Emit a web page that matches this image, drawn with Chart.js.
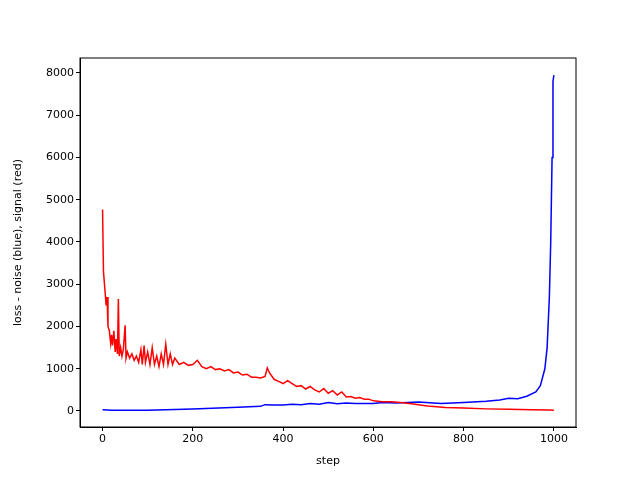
<!DOCTYPE html>
<html><head><script src="https://cdn.jsdelivr.net/npm/chart.js"></script>
<style>body{margin:0;background:#fff}</style></head><body>
<div style="width:640px;height:480px"><canvas id="c" width="640" height="480"></canvas></div>
<script>
const redSteps=[0,2,5,8,10,12,15,18,20,22,25,28,30,33,35,37,40,43,46,50,52,55,60,65,70,75,80,85,88,92,95,100,105,110,115,120,125,130,135,140,145,150,155,160,170,180,190,200,210,220,230,240,250,260,270,280,290,300,310,320,330,340,350,360,365,370,380,390,400,410,420,430,440,450,460,470,480,490,500,510,520,530,540,550,560,570,580,590,600,620,640,660,680,700,720,740,760,800,850,900,950,990,1000];
const redVals=[4770,3300,2900,2500,2700,2000,1900,1600,1800,1550,1900,1400,1700,1350,2650,1300,1500,1300,1450,2030,1250,1400,1250,1350,1200,1300,1150,1450,1100,1550,1150,1400,1100,1500,1100,1300,1050,1350,1100,1580,1100,1350,1100,1250,1100,1150,1080,1100,1200,1050,1000,1050,980,1000,950,980,900,920,850,870,800,800,780,820,1020,900,750,700,650,720,650,580,600,520,580,500,450,530,420,480,380,450,330,340,300,320,280,280,240,220,220,200,180,150,120,100,80,70,50,40,30,25,20];
const blueSteps=[0,20,100,200,300,350,360,380,400,420,440,460,480,500,520,540,560,600,620,650,700,750,800,850,880,900,920,940,960,970,980,985,990,993,996,998,1000];
const blueVals=[30,15,20,50,90,110,150,140,140,160,150,180,160,200,170,190,180,180,200,190,210,180,200,230,260,300,290,350,450,600,1000,1500,2700,4000,6000,7800,7950];
const pts=(xs,ys)=>xs.map((x,i)=>({x,y:ys[i]}));
const frame={id:'frame',afterDraw(c){const a=c.chartArea,g=c.ctx;g.save();g.strokeStyle='#000';g.lineWidth=1;g.strokeRect(a.left,a.top,a.right-a.left,a.bottom-a.top);g.restore();}};
Chart.defaults.font.family='DejaVu Sans';Chart.defaults.font.size=11;Chart.defaults.color='#000';
new Chart(document.getElementById('c'),{type:'line',
data:{datasets:[
{data:pts(redSteps,redVals),borderColor:'#ff0000',borderWidth:1.5,pointRadius:0,tension:0},
{data:pts(blueSteps,blueVals),borderColor:'#0000ff',borderWidth:1.5,pointRadius:0,tension:0}]},
options:{responsive:false,animation:false,layout:{padding:{top:58,right:64,left:12,bottom:12}},
plugins:{legend:{display:false},tooltip:{enabled:false}},
scales:{
x:{type:'linear',min:-50,max:1049,afterFit(s){s.height=41;},
 afterBuildTicks(s){s.ticks=[0,200,400,600,800,1000].map(v=>({value:v}));},
 grid:{drawOnChartArea:false,color:'#000',tickLength:4},border:{color:'#000'},
 ticks:{maxRotation:0,padding:2,callback:v=>String(v)},title:{display:true,text:'step',font:{size:11},padding:0}},
y:{min:-379,max:8355,afterFit(s){s.width=68;},
 afterBuildTicks(s){s.ticks=[0,1000,2000,3000,4000,5000,6000,7000,8000].map(v=>({value:v}));},
 grid:{drawOnChartArea:false,color:'#000',tickLength:4},border:{color:'#000'},
 ticks:{padding:2,callback:v=>String(v)},title:{display:true,text:'loss - noise (blue), signal (red)',font:{size:11},padding:0}}}},
plugins:[frame]});
</script></body></html>
